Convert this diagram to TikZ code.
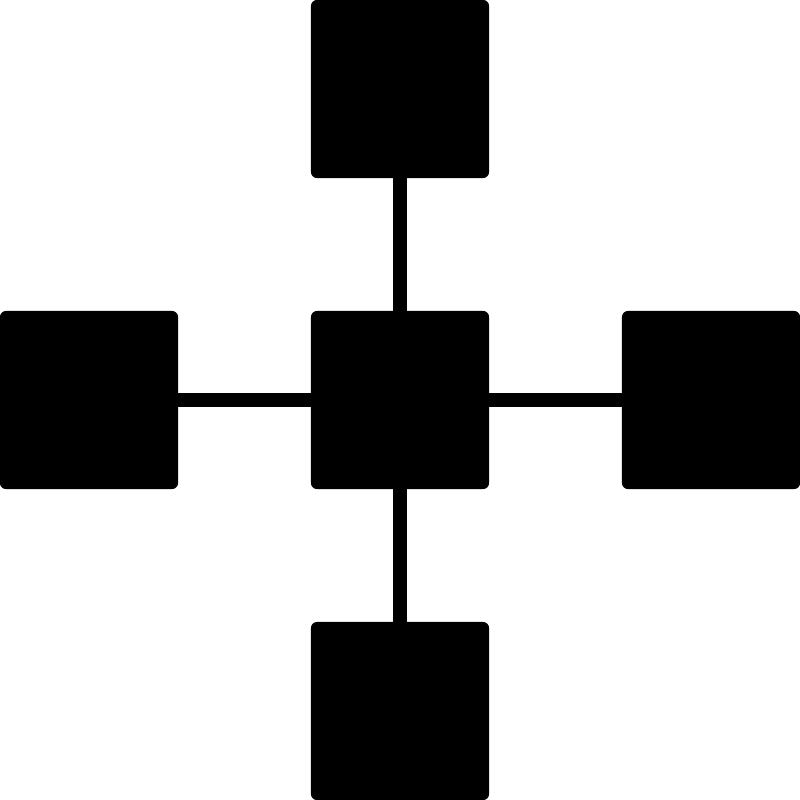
\documentclass[tikz,border=0pt]{standalone}
\begin{document}
\begin{tikzpicture}[x=0.01cm,y=-0.01cm,
  block/.style={rectangle,fill=black,draw=none,inner sep=0pt,minimum size=1.78cm,rounded corners=0.06cm},
  link/.style={line width=0.135cm,draw=black,shorten <=-0.05cm,shorten >=-0.05cm}]
\useasboundingbox (0,0) rectangle (800,800);
\node[block] (c) at (400,400) {};
\node[block] (t) at (400,89) {};
\node[block] (b) at (400,711) {};
\node[block] (l) at (89,400) {};
\node[block] (r) at (711,400) {};
\draw[link] (t.south) -- (c.north);
\draw[link] (c.south) -- (b.north);
\draw[link] (l.east) -- (c.west);
\draw[link] (c.east) -- (r.west);
\end{tikzpicture}
\end{document}
